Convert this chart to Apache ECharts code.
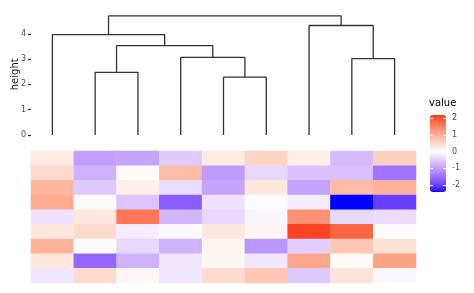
<!DOCTYPE html>
<html>
<head>
<meta charset="utf-8">
<script src="https://cdn.jsdelivr.net/npm/echarts@6/dist/echarts.min.js"></script>
<style>
  html, body { margin: 0; padding: 0; background: #fff; }
  #chart { width: 474px; height: 293px; }
</style>
</head>
<body>
<div id="chart"></div>
<script>
// 叶子（列）数量与顺序
const leaves = ['1', '2', '3', '4', '5', '6', '7', '8', '9']

// 聚类合并步骤（类似 hclust 的 merge：负数为叶子，正数为之前的合并）
const mergeLeft = [-5, -2, -8, -4, 2, -1, -7, 6]
const mergeRight = [-6, -3, -9, 1, 4, 5, 3, 7]
const mergeHeight = [2.29, 2.48, 3.02, 3.07, 3.53, 3.97, 4.33, 4.71]

// 热图各行数值（自上而下）
const row1 = [0.25, -1.0, -0.95, -0.55, 0.25, 0.55, 0.2, -0.7, 0.6]
const row2 = [0.45, -0.8, 0.05, 0.85, -1.05, -0.4, -0.65, -0.65, -1.45]
const row3 = [0.9, -0.55, 0.2, -0.35, -0.95, 0.3, -0.95, 0.85, 0.95]
const row4 = [1.05, 0.05, -0.6, -1.7, -0.3, 0.0, -0.2, -2.42, -2.0]
const row5 = [-0.3, 0.3, 1.65, -0.75, -0.4, -0.1, 1.35, -0.4, -0.35]
const row6 = [0.3, 0.45, -0.2, -0.05, 0.3, 0.12, 2.15, 1.85, 0.03]
const row7 = [0.95, -0.02, -0.4, -0.8, 0.15, -1.1, -0.5, 0.7, 0.35]
const row8 = [0.3, -1.6, -0.8, -0.25, 0.1, -0.25, 1.1, 0.05, 1.15]
const row9 = [-0.25, 0.45, 0.1, -0.25, 0.45, 0.7, -0.55, 0.35, -0.08]
const rows = [row1, row2, row3, row4, row5, row6, row7, row8, row9]

// 坐标刻度
const heightTicks = [0, 1, 2, 3, 4]
const legendTicks = [-2, -1, 0, 1, 2]
const valueMin = -2.42
const valueMax = 2.2

// ---------- Lab 插值（模拟 ggplot scale_fill_gradient2） ----------
const toLin = (c) => {
  c /= 255
  return c <= 0.04045 ? c / 12.92 : Math.pow((c + 0.055) / 1.055, 2.4)
}
const fromLin = (c) => {
  const v = c <= 0.0031308 ? 12.92 * c : 1.055 * Math.pow(c, 1 / 2.4) - 0.055
  return Math.round(Math.min(1, Math.max(0, v)) * 255)
}
const WX = 0.95047, WY = 1, WZ = 1.08883
function rgbToLab(rgb) {
  const r = toLin(rgb[0]), g = toLin(rgb[1]), b = toLin(rgb[2])
  const x = (0.4124564 * r + 0.3575761 * g + 0.1804375 * b) / WX
  const y = (0.2126729 * r + 0.7151522 * g + 0.072175 * b) / WY
  const z = (0.0193339 * r + 0.119192 * g + 0.9503041 * b) / WZ
  const f = (t) => (t > 0.008856 ? Math.cbrt(t) : 7.787 * t + 16 / 116)
  const fx = f(x), fy = f(y), fz = f(z)
  return [116 * fy - 16, 500 * (fx - fy), 200 * (fy - fz)]
}
function labToRgb(lab) {
  const fy = (lab[0] + 16) / 116
  const fx = fy + lab[1] / 500
  const fz = fy - lab[2] / 200
  const inv = (t) => (t * t * t > 0.008856 ? t * t * t : (t - 16 / 116) / 7.787)
  const x = inv(fx) * WX, y = inv(fy) * WY, z = inv(fz) * WZ
  const r = 3.2404542 * x - 1.5371385 * y - 0.4985314 * z
  const g = -0.969266 * x + 1.8760108 * y + 0.041556 * z
  const b = 0.0556434 * x - 0.2040259 * y + 1.0572252 * z
  return 'rgb(' + fromLin(r) + ',' + fromLin(g) + ',' + fromLin(b) + ')'
}
const labLow = rgbToLab([0, 0, 255])
const labMid = rgbToLab([255, 255, 255])
const labHigh = rgbToLab([255, 0, 0])
const mixLab = (a, b, t) => [0, 1, 2].map((i) => a[i] + (b[i] - a[i]) * t)
function gradient2(v) {
  const span = Math.max(Math.abs(valueMin), Math.abs(valueMax))
  const t = v / (2 * span) + 0.5
  return t < 0.5
    ? labToRgb(mixLab(labLow, labMid, t / 0.5))
    : labToRgb(mixLab(labMid, labHigh, (t - 0.5) / 0.5))
}
// visualMap 的颜色节点在 [min, max] 上均匀分布
const colorStops = []
for (let i = 0; i <= 60; i++) {
  colorStops.push(gradient2(valueMin + ((valueMax - valueMin) * i) / 60))
}

// ---------- 树状图线段 ----------
const nodeX = []
const nodeH = []
const childPos = (id) => (id < 0 ? [-id - 1, 0] : [nodeX[id - 1], nodeH[id - 1]])
const dendroSeries = []
mergeLeft.forEach((l, i) => {
  const [xl, hl] = childPos(l)
  const [xr, hr] = childPos(mergeRight[i])
  const h = mergeHeight[i]
  nodeX.push((xl + xr) / 2)
  nodeH.push(h)
  dendroSeries.push({
    type: 'line',
    xAxisIndex: 0,
    yAxisIndex: 0,
    data: [[xl, hl], [xl, h], [xr, h], [xr, hr]],
    symbol: 'none',
    silent: true,
    animation: false,
    lineStyle: { color: '#333', width: 1.3 },
  })
})

// ---------- 热图数据 ----------
const heatData = []
rows.forEach((row, r) => {
  row.forEach((v, c) => heatData.push([c, r, v]))
})

const font = 'DejaVu Sans'
const chart = echarts.init(document.getElementById('chart'))

const option = {
  animation: false,
  textStyle: { fontFamily: font },
  title: {
    text: 'value',
    left: 429,
    top: 98,
    padding: 0,
    textStyle: { fontSize: 10, fontWeight: 'normal', color: '#000', fontFamily: font },
  },
  grid: [
    { left: 31, right: 58, top: 13.6, bottom: 158, outerBoundsMode: 'none' },
    { left: 31, right: 58, top: 151, bottom: 10, outerBoundsMode: 'none' },
    { left: 430, top: 115, width: 16, height: 77, outerBoundsMode: 'none' },
  ],
  xAxis: [
    { type: 'value', gridIndex: 0, min: -0.5, max: 8.5, show: false },
    { type: 'category', gridIndex: 1, data: leaves, show: false },
    { type: 'value', gridIndex: 2, show: false },
  ],
  yAxis: [
    {
      type: 'value',
      gridIndex: 0,
      min: 0,
      max: 4.8,
      name: 'height',
      nameLocation: 'middle',
      nameGap: 10.5,
      nameMoveOverlap: false,
      nameTextStyle: { fontSize: 10, color: '#1a1a1a', fontFamily: font },
      axisLine: { show: false, onZero: false },
      axisTick: {
        show: true,
        length: 3,
        customValues: heightTicks,
        lineStyle: { color: '#333', width: 1.2 },
      },
      axisLabel: {
        customValues: heightTicks,
        fontSize: 8,
        color: '#4d4d4d',
        margin: 5,
        fontFamily: font,
      },
      splitLine: { show: false },
    },
    { type: 'category', gridIndex: 1, data: leaves, inverse: true, show: false },
    {
      type: 'value',
      gridIndex: 2,
      position: 'right',
      min: valueMin,
      max: valueMax,
      z: 10,
      axisLine: { show: false, onZero: false },
      axisTick: {
        show: true,
        inside: true,
        length: 3,
        customValues: legendTicks,
        lineStyle: { color: '#fff', width: 1 },
      },
      axisLabel: {
        customValues: legendTicks,
        fontSize: 8,
        color: '#4d4d4d',
        margin: 6,
        fontFamily: font,
      },
      splitLine: { show: false },
    },
    {
      type: 'value',
      gridIndex: 2,
      position: 'left',
      min: valueMin,
      max: valueMax,
      z: 10,
      axisLine: { show: false, onZero: false },
      axisTick: {
        show: true,
        inside: true,
        length: 3,
        customValues: legendTicks,
        lineStyle: { color: '#fff', width: 1 },
      },
      axisLabel: { show: false },
      splitLine: { show: false },
    },
  ],
  visualMap: {
    type: 'continuous',
    seriesIndex: dendroSeries.length,
    dimension: 2,
    min: valueMin,
    max: valueMax,
    calculable: false,
    left: 430,
    top: 115,
    padding: 0,
    itemWidth: 16,
    itemHeight: 77,
    inRange: { color: colorStops },
  },
  series: [
    ...dendroSeries,
    {
      type: 'heatmap',
      xAxisIndex: 1,
      yAxisIndex: 1,
      data: heatData,
      silent: true,
      itemStyle: { borderWidth: 0 },
    },
  ],
}

chart.setOption(option)
</script>
</body>
</html>
